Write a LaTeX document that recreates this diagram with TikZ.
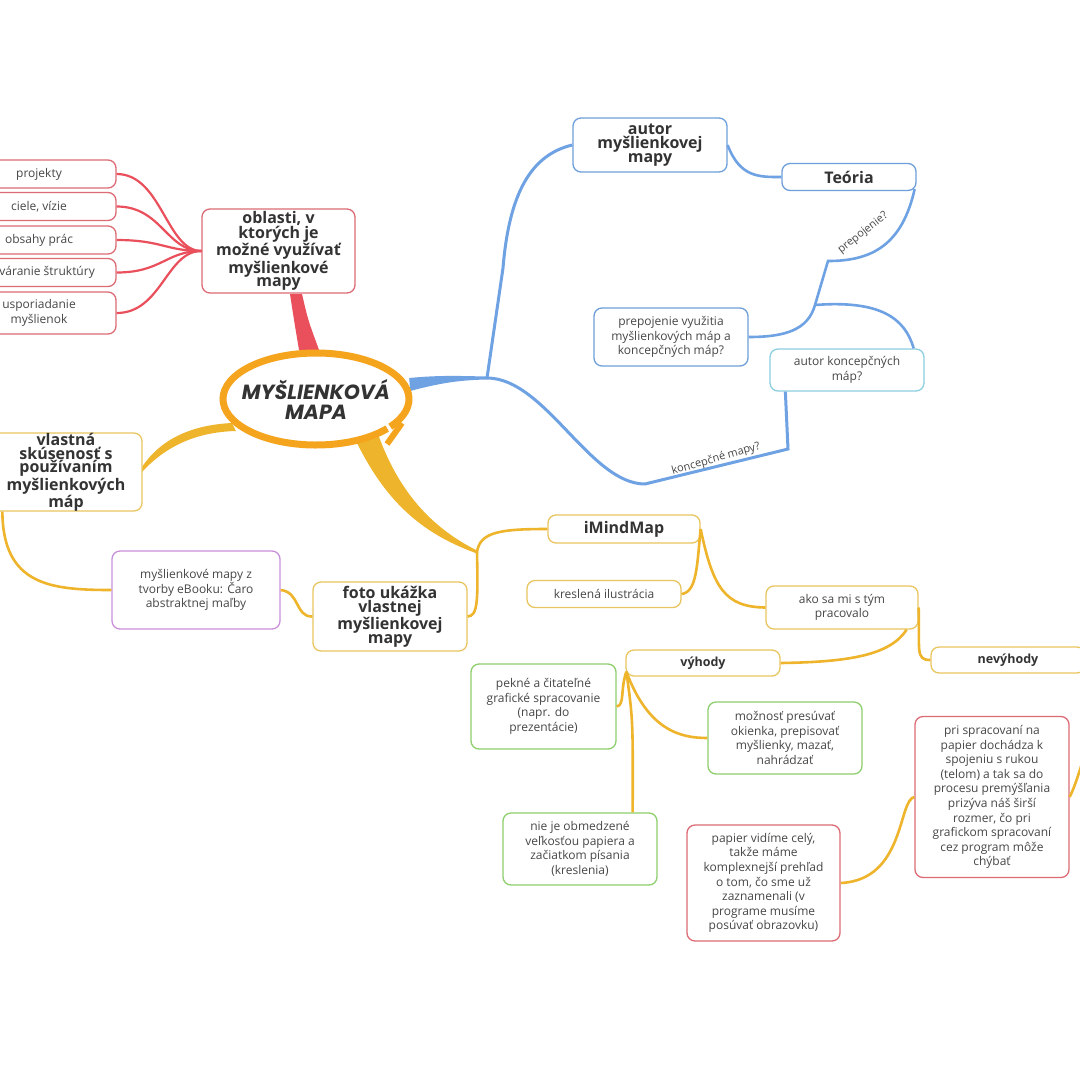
\documentclass[tikz,border=0pt]{standalone}
\usepackage{fontspec}
\setmainfont{Open Sans}
\newfontfamily\titlefont{Poppins}
\usetikzlibrary{shapes.geometric,calc}
\definecolor{txt}{HTML}{474747}
\definecolor{dtxt}{HTML}{333333}
\definecolor{redl}{HTML}{EA4F5C}
\definecolor{redb}{HTML}{DD6B76}
\definecolor{bluel}{HTML}{6EA2E2}
\definecolor{blueb}{HTML}{6E9FDA}
\definecolor{tealb}{HTML}{8CCFE0}
\definecolor{orng}{HTML}{F5A41E}
\definecolor{yel}{HTML}{EEB42B}
\definecolor{yelb}{HTML}{E9C560}
\definecolor{grnb}{HTML}{8DCF6C}
\definecolor{purb}{HTML}{C990DA}
\begin{document}
\begin{tikzpicture}[x=1pt,y=-1pt,
  box/.style={draw, rounded corners=8pt, line width=1.3pt, fill=white, text=txt, align=center, inner sep=0pt, minimum width=154pt},
  sm/.style={font=\fontsize{12}{14.6}\selectfont},
  bd/.style={font=\fontsize{16}{13.8}\selectfont\bfseries, text=dtxt},
  bs/.style={font=\fontsize{12.5}{14}\selectfont\bfseries, text=dtxt},
  rline/.style={draw=redl, line width=2.2pt},
  bline/.style={draw=bluel, line width=2.6pt},
  yline/.style={draw=yel, line width=2.6pt},
  lbl/.style={text=txt, font=\fontsize{11}{13}\selectfont, inner sep=1pt}
]
\useasboundingbox (0,0) rectangle (1080,1080);
\fill[white] (0,0) rectangle (1080,1080);

% ---------- nodes (positions) ----------
\node[minimum width=186pt, minimum height=92pt, ellipse, inner sep=0pt] (c) at (316,399) {};
\coordinate (jb) at (487,378);
\coordinate (bj) at (815,305);
\coordinate (jy) at (477,552);
\coordinate (nx) at (1092,735);

% ---------- tapered main branches ----------
\coordinate (ra) at (290,294);
\coordinate (rb) at (302,294);
\fill[redl] (ra) -- (rb) .. controls (308,320) .. ($(c.north)+(3,-3)$) -- ($(c.north)+(-17,-3)$) .. controls (294,320) .. (ra) -- cycle;
\fill[bluel] ($(c.east)+(0,-21)$) .. controls (440,375) and (460,376) .. ($(jb)+(0,-1.5)$) -- ($(jb)+(0,1.5)$) .. controls (460,380) and (440,383) .. ($(c.east)+(1,-8)$) -- cycle;
\fill[yel] (142,467) .. controls (160,440) and (190,425) .. ($(c.center)+(-84,24)$) -- ($(c.center)+(-80,32)$) .. controls (195,432) and (165,447) .. (142,472) -- cycle;
\fill[yel] (356,441) .. controls (385,500) and (420,533) .. ($(jy)+(0,1.5)$) -- ($(jy)+(0,-1.5)$) .. controls (430,527) and (398,490) .. (378,434) -- cycle;

% ---------- central ellipse ----------
\draw[orng, line width=7pt] (c.center) ++(40:93 and 46) arc[start angle=40, end angle=397, x radius=93, y radius=46];
\draw[orng, line width=6pt] ($(c.center)+(71,45)$) -- ($(c.center)+(86,24)$);
\node[align=center, text=dtxt, font=\titlefont\bfseries\itshape\fontsize{20.5}{20}\selectfont] (title) at ($(c.center)+(0,0)$) {MYŠLIENKOVÁ\\MAPA};

% ---------- red part ----------
\node[box,sm,draw=redb,minimum height=28pt] (r1) at (39,174) {projekty};
\node[box,sm,draw=redb,minimum height=28pt] (r2) at (39,206.5) {ciele, vízie};
\node[box,sm,draw=redb,minimum height=28pt] (r3) at (39,240) {obsahy prác};
\node[box,sm,draw=redb,minimum height=28pt] (r4) at (39,272.5) {vytváranie štruktúry};
\node[box,sm,draw=redb,minimum height=42pt] (r5) at (39,313) {usporiadanie\\myšlienok};
\node[box,bd,draw=redb,minimum width=153pt,minimum height=84pt] (ob) at (278.5,251) {oblasti, v\\ktorých je\\možné využívať\\myšlienkové\\mapy};
\foreach \r in {r1,r2,r3,r4,r5}
  \draw[rline] (\r.east) .. controls +(45,0) and +(-35,0) .. (ob.west);

% ---------- blue part ----------
\node[box,bd,draw=blueb,minimum height=54pt] (am) at (650,145) {autor\\myšlienkovej\\mapy};
\node[box,bd,draw=blueb,minimum width=134pt,minimum height=27pt] (te) at (849,177) {Teória};
\node[box,sm,draw=blueb,minimum height=58pt] (pv) at (671,337) {prepojenie využitia\\myšlienkových máp a\\koncepčných máp?};
\node[box,sm,draw=tealb,minimum height=42pt] (ak) at (847,370) {autor koncepčných\\máp?};

\draw[bline, line width=3pt] (jb) -- (503,268) .. controls (509,195) and (530,155) .. (am.west);
\draw[bline, line width=3pt] (jb) .. controls (545,378) and (590,484) .. (645,484) -- (788,449) -- ($(ak.south west)+(16,0)$);
\draw[bline] (am.east) .. controls (740,178) and (760,177) .. (te.west);
\draw[bline] ($(te.south east)+(-2,-2)$) .. controls (902,245) and (872,261) .. (828,261) -- (bj);
\draw[bline] (bj) .. controls (808,330) and (785,337) .. (pv.east);
\draw[bline] (bj) .. controls (880,300) and (905,318) .. ($(ak.north east)+(-11,0)$);
\node[lbl, rotate=16] (lk) at (716,459) {koncepčné mapy?};
\node[lbl, rotate=38] (lp) at (863,233) {prepojenie?};

% ---------- yellow part ----------
\node[box,bd,draw=yelb,minimum width=152pt,minimum height=75pt] (vl) at (66,472) {vlastná\\skúsenosť s\\používaním\\myšlienkových\\máp};
\node[box,sm,draw=purb,minimum width=168pt,minimum height=78pt] (pm) at (196,590) {myšlienkové mapy z\\tvorby eBooku: Čaro\\abstraktnej maľby};
\node[box,bd,draw=yelb,minimum height=69pt] (fo) at (390,616.5) {foto ukážka\\vlastnej\\myšlienkovej\\mapy};
\node[box,bd,draw=yelb,minimum width=152pt,minimum height=28pt] (im) at (624,529) {iMindMap};
\node[box,sm,draw=yelb,minimum height=27pt] (kr) at (604,594) {kreslená ilustrácia};
\node[box,sm,draw=yelb,minimum width=152pt,minimum height=43pt] (ako) at (842,607.5) {ako sa mi s tým\\pracovalo};
\node[box,bs,draw=yelb,minimum height=26pt] (vy) at (703,663) {výhody};
\node[box,bs,draw=yelb,minimum height=26pt] (nv) at (1008,660) {nevýhody};
\node[box,sm,draw=grnb,minimum width=145pt,minimum height=85pt] (pe) at (543.5,706.5) {pekné a čitateľné\\grafické spracovanie\\(napr. do\\prezentácie)};
\node[box,sm,draw=grnb,minimum height=72pt] (mo) at (785,738) {možnosť presúvať\\okienka, prepisovať\\myšlienky, mazať,\\nahrádzať};
\node[box,sm,draw=grnb,minimum height=72pt] (ni) at (580,849) {nie je obmedzené\\veľkosťou papiera a\\začiatkom písania\\(kreslenia)};
\node[box,sm,draw=redb,minimum width=153pt,minimum height=116pt] (pa) at (763.5,883) {papier vidíme celý,\\takže máme\\komplexnejší prehľad\\o tom, čo sme už\\zaznamenali (v\\programe musíme\\posúvať obrazovku)};
\node[box,sm,draw=redb,minimum height=161pt] (pr) at (992,797) {pri spracovaní na\\papier dochádza k\\spojeniu s rukou\\(telom) a tak sa do\\procesu premýšľania\\prizýva náš širší\\rozmer, čo pri\\grafickom spracovaní\\cez program môže\\chýbať};
\coordinate (vj) at ($(vy.south west)+(1,-5)$);

\draw[yline] ($(vl.south west)+(13,0)$) .. controls (3,585) and (50,590) .. (pm.west);
\draw[yline] (pm.east) .. controls (300,592) and (295,617) .. (fo.west);
\draw[yline] (jy) .. controls (480,532) and (500,529) .. (im.west);
\draw[yline] (jy) .. controls (478,600) and (478,616) .. (fo.east);
\draw[yline] (im.east) .. controls (697,565) and (697,592) .. (kr.east);
\draw[yline] (im.east) .. controls (713,588) and (725,607) .. (ako.west);
\draw[yline] ($(ako.south east)+(-12,0)$) .. controls (890,655) and (850,662) .. (vy.east);
\draw[yline] (ako.east) .. controls (920,650) and (915,660) .. (nv.west);
\draw[yline] (vj) .. controls (620,690) and (625,705) .. (pe.east);
\draw[yline] (vj) .. controls (648,730) and (680,738) .. (mo.west);
\draw[yline] (vj) .. controls (633,720) .. ($(ni.north east)+(-25,0)$);
\draw[yline] (pa.east) .. controls (905,880) and (898,800) .. (pr.west);
\draw[yline] (pr.east) .. controls (1078,780) and (1082,760) .. (nx);
\end{tikzpicture}
\end{document}
